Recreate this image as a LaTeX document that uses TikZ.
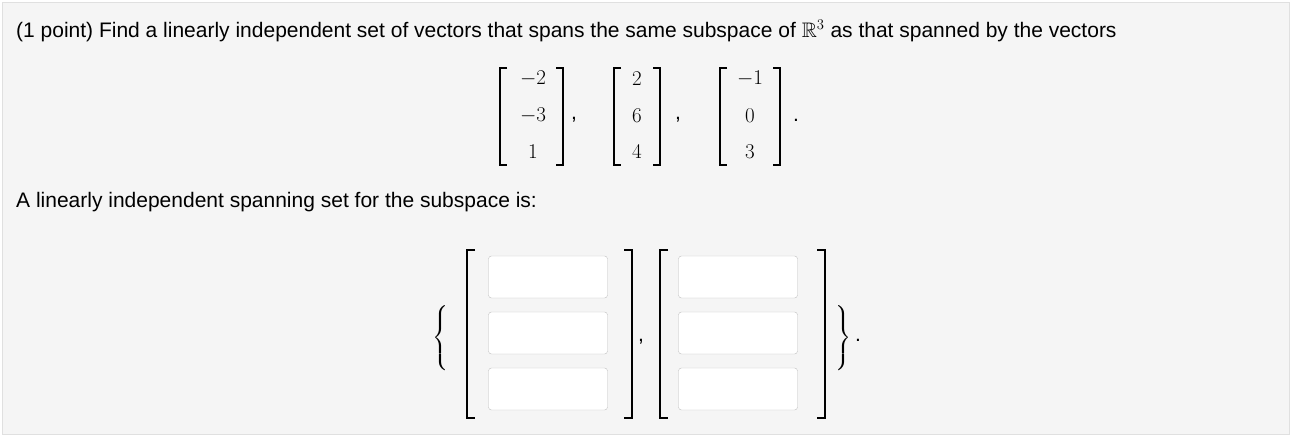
\RequirePackage{fix-cm}
\documentclass[tikz,border=0pt]{standalone}
\usepackage{amssymb}
\usepackage{fontspec}
\setmainfont{Liberation Sans}
\begin{document}
\begin{tikzpicture}[x=1pt,y=-1pt,
  txt/.style={anchor=west,inner sep=0pt,font=\fontsize{21}{24}\selectfont},
  ent/.style={inner sep=0pt,font=\fontsize{21}{24}\selectfont},
  brk/.style={line width=1.2pt},
  ans/.style={draw=black!25,fill=white,rounded corners=3pt,minimum width=119pt,minimum height=42pt,inner sep=0pt}]
\useasboundingbox (0,0) rectangle (1291,438);
\draw[draw=black!12,fill=black!4] (2,2) rectangle (1289,434);
\node[txt] (q) at (16,31) {(1 point) Find a linearly independent set of vectors that spans the same subspace of $\mathbb{R}^3$ as that spanned by the vectors};
% matrices
\foreach \nm/\l/\r/\cx/\a/\b/\c in {m1/500/563/533/$-2$/$-3$/$1$, m2/614/660/637/$2$/$6$/$4$, m3/720/780/750/$-1$/$0$/$3$}{
  \draw[brk] (\l+7,68) -- (\l,68) -- (\l,165) -- (\l+7,165);
  \draw[brk] (\r-7,68) -- (\r,68) -- (\r,165) -- (\r-7,165);
  \node[ent] (\nm a) at (\cx,79) {\a};
  \node[ent] (\nm b) at (\cx,116) {\b};
  \node[ent] (\nm c) at (\cx,152) {\c};
}
\node[ent] (c1) at (574,120) {,};
\node[ent] (c2) at (678,120) {,};
\node[ent] (p1) at (796,120) {.};
\node[txt] (a) at (16,202) {A linearly independent spanning set for the subspace is:};
% answer
\node[ent,font=\fontsize{18}{20}\selectfont] (lb) at (441,338) {$\left\{\rule{0pt}{37pt}\right.$};
\node[ent,font=\fontsize{18}{20}\selectfont] (rb) at (843,338) {$\left.\rule{0pt}{37pt}\right\}$};
\node[ent] (p2) at (858,340) {.};
\foreach \nm/\l/\r/\cx in {v1/467/632/548, v2/660/825/738}{
  \draw[brk] (\l+8,250) -- (\l,250) -- (\l,418) -- (\l+8,418);
  \draw[brk] (\r-8,250) -- (\r,250) -- (\r,418) -- (\r-8,418);
  \node[ans] (\nm a) at (\cx,277) {};
  \node[ans] (\nm b) at (\cx,333) {};
  \node[ans] (\nm c) at (\cx,389) {};
}
\node[ent] (c3) at (641,342) {,};
\end{tikzpicture}
\end{document}
